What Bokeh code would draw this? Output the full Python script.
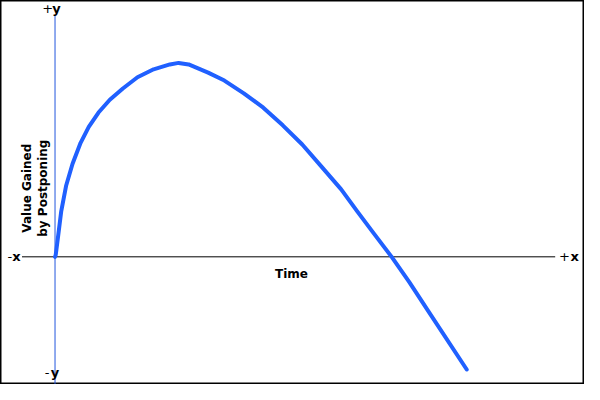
import math
from bokeh.plotting import figure
from bokeh.models import Range1d
from bokeh.core.properties import value
from bokeh.embed import file_html
from bokeh.resources import INLINE

# curve: time vs value gained by postponing
time = [0.0, 0.017, 0.071, 0.149, 0.267, 0.425, 0.620, 0.818, 1.054, 1.328, 1.644, 1.998,
        2.389, 2.783, 2.995, 3.238, 3.710, 4.104, 4.575, 5.047, 5.519, 5.991, 6.462,
        6.934, 7.328, 7.719, 8.153, 8.585, 9.017, 9.976]
gain = [0.0, 0.10, 1.00, 2.33, 3.65, 4.80, 5.88, 6.70, 7.44, 8.10, 8.68, 9.26,
        9.67, 9.92, 10.0, 9.92, 9.50, 9.09, 8.43, 7.69, 6.78, 5.79, 4.64,
        3.48, 2.33, 1.22, 0.01, -1.30, -2.71, -5.81]

# axis line extents
x_axis_ends = [-0.80, 12.12]
y_axis_ends = [12.48, -6.60]

# end labels of the axes: sign + letter
signs = ["+", "-", "-", "+"]
sign_x = [-0.177, -0.189, -1.097, 12.347]
letters = ["y", "y", "x", "x"]
letter_x = [0.035, 0.0, -0.932, 12.594]
label_y = [12.82, -5.99, 0.0, 0.0]

p = figure(width=584, height=384, output_backend="svg", toolbar_location=None,
           x_range=Range1d(-1.321, 12.830), y_range=Range1d(-6.584, 13.218),
           min_border=0)
p.axis.visible = False
p.grid.visible = False
p.outline_line_color = "black"
p.outline_line_width = 2
p.background_fill_color = "white"

# axes
p.line(x_axis_ends, [0, 0], line_color="black", line_width=1)
p.line([0, 0], y_axis_ends, line_color="#2255dd", line_width=1)

# curve
p.line(time, gain, line_color="#2060ff", line_width=4, line_cap="round", line_join="round")

font = value("DejaVu Sans")
p.text(sign_x, label_y, text=signs, text_font=font, text_font_size="13px",
       text_align="center", text_baseline="middle", text_color="black")
p.text(letter_x, label_y, text=letters, text_font=font, text_font_style="bold",
       text_font_size="13px", text_align="center", text_baseline="middle", text_color="black")

p.text([5.73], [-0.89], text=["Time"], text_font=font, text_font_style="bold",
       text_font_size="12px", text_align="center", text_baseline="middle", text_color="black")

p.text([-0.48], [3.54], text=["Value Gained\nby Postponing"], angle=math.pi / 2,
       text_font=font, text_font_style="bold", text_font_size="12px",
       text_align="center", text_baseline="middle", text_line_height=1.15,
       text_color="black")

open("out.html", "w").write(file_html(p, INLINE))
